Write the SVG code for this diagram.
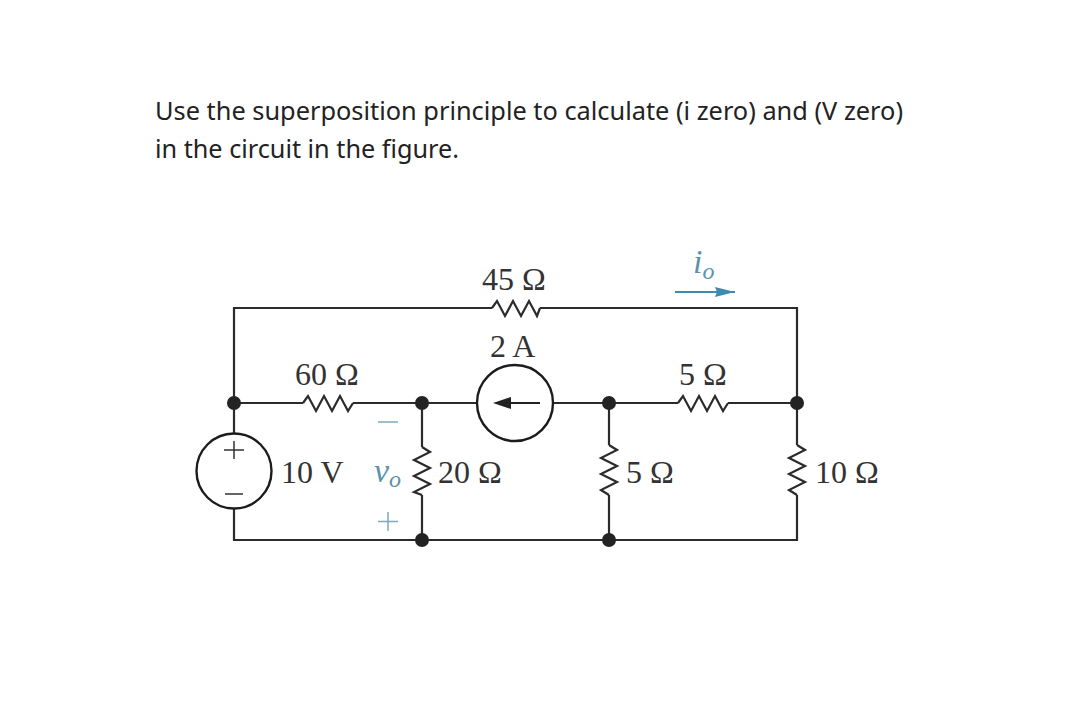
<svg xmlns="http://www.w3.org/2000/svg" width="1080" height="708" viewBox="0 0 1080 708">
<style>
.w{fill:none;stroke:#2b2b2b;stroke-width:2.2;stroke-linejoin:miter}
.c{fill:none;stroke:#1c1c1c;stroke-width:2.4}
.d{fill:#232323}
.v{font-family:"Liberation Serif",serif;font-size:32px;fill:#333}
.p{font-family:"Noto Sans",sans-serif;font-size:25px;fill:#222}
.i{font-family:"Liberation Serif",serif;font-style:italic;font-size:34px;fill:#5c93ac}
.s{font-size:24px}
</style>
<defs>
<marker id="ab" markerWidth="22" markerHeight="12" refX="20" refY="5" markerUnits="userSpaceOnUse" orient="auto"><path d="M0 0L20 5L0 10L2 5Z" fill="#3f8bb0"/></marker>
</defs>
<text class="p" x="155" y="120" textLength="748" lengthAdjust="spacingAndGlyphs">Use the superposition principle to calculate (i zero) and (V zero)</text>
<text class="p" x="155" y="158" textLength="304" lengthAdjust="spacingAndGlyphs">in the circuit in the figure.</text>
<g id="connectors">
<path class="w" d="M234 433V308H492M540 308H797V445M797 495V540H234V509M234 403H303M353 403H477M553 403H678M728 403H797M422 403V447M422 495V540M609 403V445M609 495V540"/>
<path d="M675 292H735" fill="none" stroke="#3f8bb0" stroke-width="1.800" marker-end="url(#ab)"/>
</g>
<g id="r45"><path class="w" d="M492 308l5-7 8 15 8-15 8 15 8-15 8 15 3-8"/><text class="v" x="482" y="290">45 Ω</text></g>
<g id="r60"><path class="w" d="M303 403l5-7 8 15 8-15 8 15 8-15 8 15 5-8"/><text class="v" x="295" y="385">60 Ω</text></g>
<g id="r5h"><path class="w" d="M678 403l5-7 8 15 8-15 8 15 8-15 8 15 5-8"/><text class="v" x="679" y="385">5 Ω</text></g>
<g id="r20"><path class="w" d="M422 447l8 5-16 8 16 8-16 8 16 8-16 8 8 3"/><text class="v" x="438" y="483">20 Ω</text></g>
<g id="r5v"><path class="w" d="M609 445l8 5-16 8 16 8-16 8 16 8-16 8 8 5"/><text class="v" x="626" y="483">5 Ω</text></g>
<g id="r10"><path class="w" d="M797 445l8 5-16 8 16 8-16 8 16 8-16 8 8 5"/><text class="v" x="815" y="483">10 Ω</text></g>
<g id="vs"><circle class="c" cx="234" cy="471" r="37.500"/><path d="M234 441v18M224 450h20M225 494h18" fill="none" stroke="#333" stroke-width="1.500"/><text class="v" x="281" y="483">10 V</text></g>
<g id="cs"><circle class="c" cx="515" cy="403" r="38"/><path d="M540 403H505" stroke="#222" stroke-width="1.800"/><path d="M493 403L511 397V409Z" fill="#222"/><text class="v" x="490" y="357">2 A</text></g>
<g id="nodes">
<circle class="d" cx="234" cy="403" r="7"/><circle class="d" cx="422" cy="403" r="7"/><circle class="d" cx="609" cy="403" r="7"/><circle class="d" cx="797" cy="403" r="7"/><circle class="d" cx="422" cy="540" r="7"/><circle class="d" cx="609" cy="540" r="7"/>
</g>
<g id="vo"><path d="M378 422h20M388 512v19M378 521.500h20" fill="none" stroke="#7fa9bb" stroke-width="1.500"/><text class="i" x="374" y="482">v<tspan class="s" dy="5">o</tspan></text></g>
<g id="io"><text class="i" x="693" y="273">i<tspan class="s" dy="6">o</tspan></text></g>
</svg>
